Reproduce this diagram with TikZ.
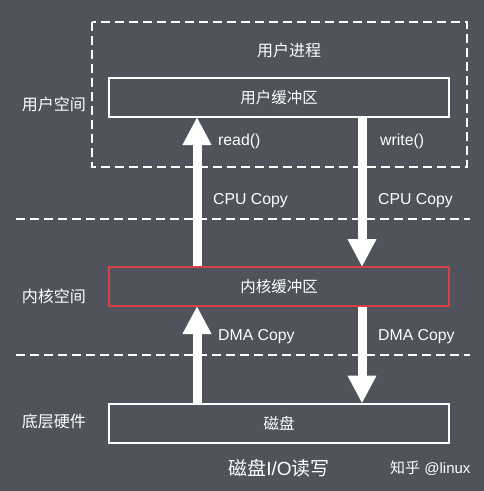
\documentclass[tikz,border=0pt]{standalone}
\usepackage{fontspec}
\setmainfont{Liberation Sans}
\newfontfamily\cjk{Noto Sans CJK SC}
\usetikzlibrary{arrows.meta}
\definecolor{bg}{RGB}{80,82,92}
\definecolor{redbox}{RGB}{214,64,72}
\tikzset{
  x=1pt, y=-1pt,
  lbl/.style={text=white, font=\fontsize{16}{16}\selectfont\cjk, inner sep=0pt},
  eng/.style={text=white, font=\fontsize{15.8}{15.8}\selectfont, inner sep=0pt},
  bufbox/.style={draw=white, line width=2pt, minimum width=340pt, minimum height=39pt, inner sep=0pt, text=white, font=\fontsize{15.5}{15.5}\selectfont\cjk},
  sep/.style={draw=white, line width=2pt, dash pattern=on 9pt off 5pt},
  bigarrow/.style={draw=white, line width=9pt, -{Triangle[length=28pt,width=27pt]}, shorten >=-1pt},
}
\begin{document}
\begin{tikzpicture}
\fill[bg] (0,0) rectangle (484,491);
\useasboundingbox (0,0) rectangle (484,491);
% dashed user process box
\draw[sep] (92,22) rectangle (467,167);
\node[lbl] (proc) at (289,50) {用户进程};
\node[bufbox] (ubuf) at (279,97.5) {用户缓冲区};
\node[bufbox, draw=redbox] (kbuf) at (279,286.5) {内核缓冲区};
\node[bufbox] (disk) at (279,423) {磁盘};
% separators
\coordinate (s1a) at (16,219);
\coordinate (s1b) at (470,219);
\coordinate (s2a) at (16,355);
\coordinate (s2b) at (470,355);
\draw[sep] (s1a) -- (s1b);
\draw[sep] (s2a) -- (s2b);
% side labels
\node[lbl] (us) at (54,104) {用户空间};
\node[lbl] (ks) at (54,296) {内核空间};
\node[lbl] (hw) at (54,421) {底层硬件};
% arrows
\coordinate (xl) at (197,0);
\coordinate (xr) at (362,0);
\draw[bigarrow] (kbuf.north -| xl) -- (ubuf.south -| xl);
\draw[bigarrow] (ubuf.south -| xr) -- (kbuf.north -| xr);
\draw[bigarrow] (disk.north -| xl) -- (kbuf.south -| xl);
\draw[bigarrow] (kbuf.south -| xr) -- (disk.north -| xr);
% labels
\node[eng, anchor=base west] (rd) at (218,145) {read()};
\node[eng, anchor=base west] (wr) at (380,145) {write()};
\node[eng, anchor=base west] (c1) at (213,204) {CPU Copy};
\node[eng, anchor=base west] (c2) at (378,204) {CPU Copy};
\node[eng, anchor=base west] (d1) at (218,340) {DMA Copy};
\node[eng, anchor=base west] (d2) at (378,340) {DMA Copy};
% caption
\node[text=white, inner sep=0pt, font=\fontsize{19}{19}\selectfont] (cap) at (279,468) {{\cjk 磁盘}I/O{\cjk 读写}};
\node[text=white, inner sep=0pt, font=\fontsize{15}{15}\selectfont, anchor=west] (zh) at (390,468) {{\cjk 知乎} @linux};
\end{tikzpicture}
\end{document}
